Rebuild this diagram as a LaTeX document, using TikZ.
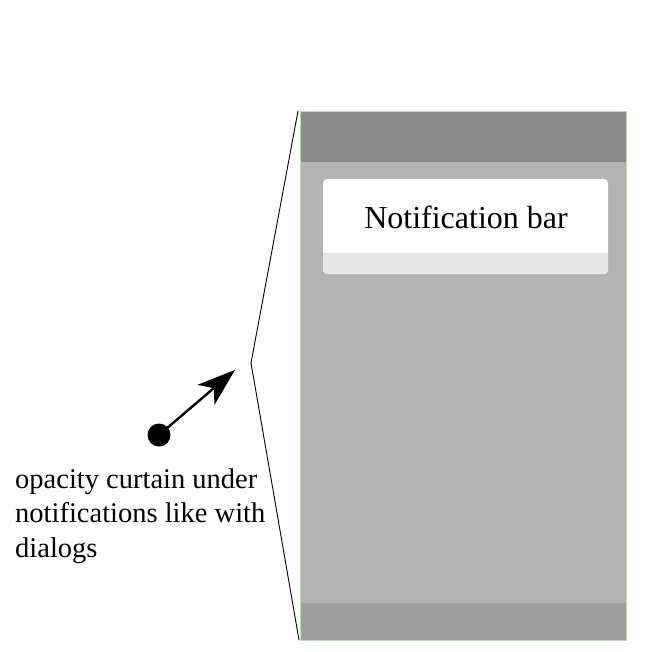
\documentclass[tikz,border=0pt]{standalone}
\usepackage{fontspec}
\setmainfont{Liberation Serif}
\usetikzlibrary{arrows.meta}
\definecolor{barTop}{HTML}{8C8C8C}
\definecolor{barBottom}{HTML}{9E9E9E}
\definecolor{curtain}{HTML}{B3B3B3}
\definecolor{cardFoot}{HTML}{E6E6E6}
\definecolor{screenEdge}{HTML}{B8DCB8}
\begin{document}
\begin{tikzpicture}[x=1pt, y=-1pt]
\useasboundingbox (0,0) rectangle (652,651);
\fill[curtain] (300,111) rectangle (626,640);
\fill[barTop] (300,111) rectangle (626,162);
\fill[barBottom] (300,603) rectangle (626,640);
\draw[screenEdge, line width=0.8pt] (300,111) rectangle (626,640);
\fill[white, rounded corners=4pt] (323,179) rectangle (608,274);
\begin{scope}
\clip[rounded corners=4pt] (323,179) rectangle (608,274);
\fill[cardFoot] (323,253) rectangle (608,274);
\end{scope}
\node[anchor=base, inner sep=0pt, font=\fontsize{32}{38}\selectfont] (card) at (466,228) {Notification bar};
\draw[black, line width=0.9pt] (298,111) -- (251,363) -- (299,640);
\node[circle, fill=black, inner sep=0pt, minimum size=23pt] (dot) at (159,435) {};
\coordinate (tip) at (235,370);
\draw[line width=2.4pt, -{Stealth[length=38pt, width=26pt, inset=10pt]}] (dot.center) -- (tip);
\node[anchor=north west, inner sep=0pt, align=left, font=\fontsize{28.5}{34.5}\selectfont] (caption) at (15,468.5) {opacity curtain under\\notifications like with\\dialogs};
\end{tikzpicture}
\end{document}
